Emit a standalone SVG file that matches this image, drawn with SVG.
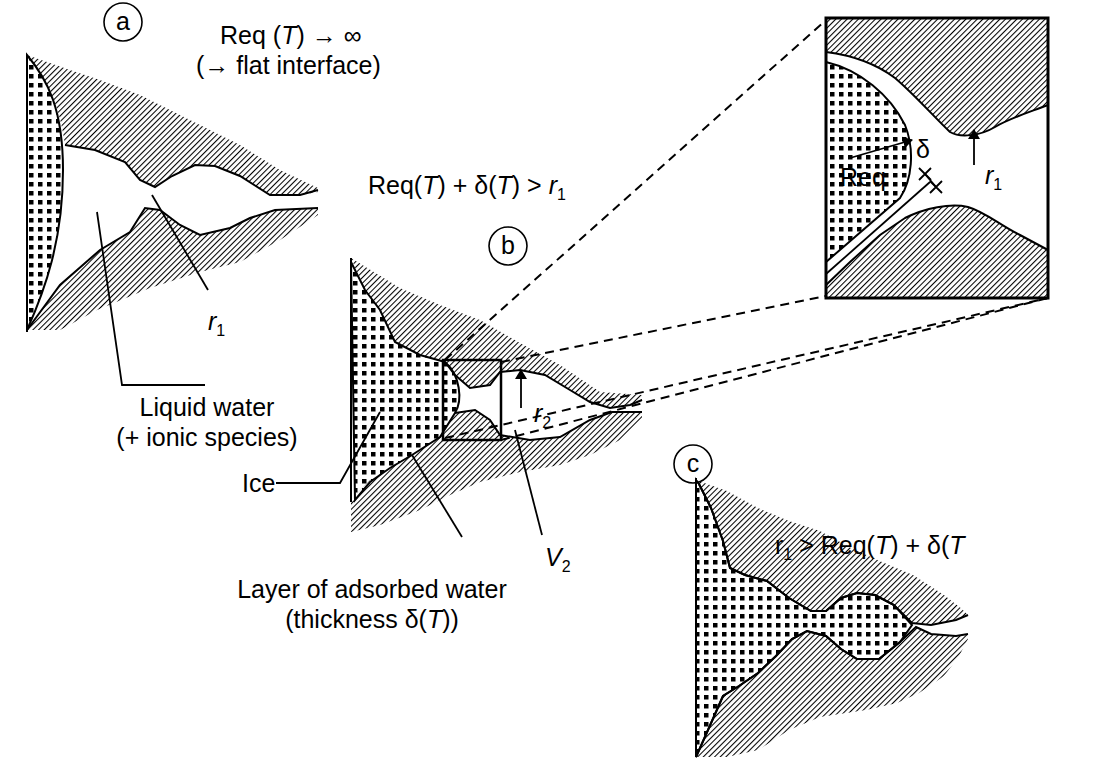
<svg xmlns="http://www.w3.org/2000/svg" width="1098" height="764" viewBox="0 0 1098 764">
<defs>
<pattern id="hatch" width="4" height="4" patternUnits="userSpaceOnUse" patternTransform="rotate(45)"><line x1="0" y1="0" x2="0" y2="4" stroke="#000" stroke-width="2.1"/></pattern>
<pattern id="dots" width="9" height="9" patternUnits="userSpaceOnUse"><rect x="2" y="2" width="4.5" height="4.5" fill="#000"/></pattern>
<marker id="arr" markerWidth="10" markerHeight="12" refX="9" refY="6" orient="auto" markerUnits="userSpaceOnUse" viewBox="0 0 10 12"><path d="M0,0 L10,6 L0,12 z" fill="#000"/></marker>
</defs>
<style>
.rock{fill:url(#hatch);stroke:none}
.edge{fill:none;stroke:#000;stroke-width:2}
.ice{fill:url(#dots);stroke:#000;stroke-width:2}
.ln{fill:none;stroke:#000;stroke-width:1.8}
.dash{fill:none;stroke:#000;stroke-width:2;stroke-dasharray:9 6}
text{font-family:"Liberation Sans",Arial,sans-serif;font-size:25px;fill:#000}
.it{font-style:italic}
.sub{font-size:16px}
.circ{fill:none;stroke:#000;stroke-width:1.6}
</style>

<g id="panel-a">
<path class="rock" d="M27,55 L70,70 L100,80 L140,95 L170,110 L200,125 L240,145 L280,170 L318,188 L318,192 L300,195 L270,195 L240,176 L215,166 L195,165 L172,176 L155,187 L140,180 L125,162 L95,150 L65,145 C60,105 45,75 27,55 Z"/>
<path class="edge" d="M65,145 L95,150 L125,162 L140,180 L155,187 L172,176 L195,165 L215,166 L240,176 L270,195 L300,195 L318,190"/>
<path class="rock" d="M27,330 L60,285 L100,250 L130,232 L145,208 L160,210 L180,225 L200,235 L230,228 L250,218 L275,210 L318,208 L318,215 L280,240 L240,262 L200,272 L150,288 L97,310 L60,330 Z"/>
<path class="edge" d="M27,330 L60,285 L100,250 L130,232 L145,208 L160,210 L180,225 L200,235 L230,228 L250,218 L275,210 L318,208"/>
<path class="ice" d="M27,55 C48,80 63,110 63,170 C63,240 45,290 27,330 Z"/>
<line class="edge" x1="27" y1="55" x2="27" y2="332"/>
<circle class="circ" cx="123" cy="22" r="19"/>
<text x="123" y="30" text-anchor="middle">a</text>
</g>

<g id="text-a">
<text x="220" y="44">Req (<tspan class="it">T</tspan>) → ∞</text>
<text x="196" y="74">(→ flat interface)</text>
<text x="208" y="330" class="it">r<tspan class="sub" dy="6" font-style="normal">1</tspan></text>
<text x="207" y="416" text-anchor="middle">Liquid water</text>
<text x="207" y="446" text-anchor="middle">(+ ionic species)</text>
<text x="368" y="194">Req(<tspan class="it">T</tspan>) + δ(<tspan class="it">T</tspan>) &gt; <tspan class="it">r</tspan><tspan class="sub" dy="6">1</tspan></text>
</g>

<g id="panel-b">
<path class="rock" d="M351,258 L400,288 L440,305 L480,320 L520,343 L560,365 L600,392 L642,395 L642,400 L630,405 L610,408 L590,402 L570,390 L545,375 L520,370 L500,372 L490,385 L470,388 L455,375 L445,362 L420,355 L395,342 L380,310 L365,290 Z"/>
<path class="edge" d="M445,362 L455,375 L470,388 L490,385 L500,372 L520,370 L545,375 L570,390 L590,402 L610,408 L630,405 L642,400"/>
<path class="rock" d="M351,500 L370,480 L390,468 L412,455 L440,437 L455,413 L475,410 L490,420 L500,435 L530,440 L560,437 L590,420 L612,412 L642,412 L642,418 L620,440 L590,455 L560,465 L520,472 L480,482 L450,495 L420,510 L380,525 L351,532 Z"/>
<path class="edge" d="M455,413 L475,410 L490,420 L500,435 L530,440 L560,437 L590,420 L612,412 L642,412"/>
<path class="ice" d="M351,262 L365,290 L380,310 L395,342 L420,355 L445,362 C460,375 463,400 455,413 L440,437 L412,455 L390,468 L370,482 L355,500 Z"/>
<line class="edge" x1="351" y1="258" x2="351" y2="502"/>
<rect x="443" y="360" width="58" height="80" fill="none" stroke="#000" stroke-width="2.5"/>
<line class="ln" x1="521" y1="408" x2="521" y2="370" marker-end="url(#arr)"/>
<circle class="circ" cx="508" cy="246" r="19"/>
<text x="508" y="254" text-anchor="middle">b</text>
</g>

<g id="inset">
<rect x="826" y="18" width="222" height="280" fill="#fff"/>
<path class="rock" d="M826,18 L1048,18 L1048,105 C1030,112 1010,118 995,127 C980,136 960,138 950,132 C935,118 915,95 895,78 C875,63 850,55 826,52 Z"/>
<path class="edge" d="M826,52 C850,55 875,63 895,78 C915,95 935,118 950,132 C960,138 980,136 995,127 C1010,118 1030,112 1048,105"/>
<path class="rock" d="M826,298 L826,285 L850,262 L880,235 L905,218 C925,208 950,203 968,207 C985,212 1000,225 1020,235 L1048,250 L1048,298 Z"/>
<path class="edge" d="M826,285 L850,262 L880,235 L905,218 C925,208 950,203 968,207 C985,212 1000,225 1020,235 L1048,250"/>
<path class="ice" d="M826,62 C860,70 890,95 905,125 C915,150 912,180 900,198 L826,262 Z"/>
<line class="ln" x1="826" y1="274" x2="930" y2="182"/>
<line class="ln" x1="850" y1="158" x2="912" y2="140" marker-end="url(#arr)"/>
<line class="ln" x1="974" y1="165" x2="974" y2="130" marker-end="url(#arr)"/>
<path class="ln" d="M919,168 L931,180 M919,180 L931,168 M930,181 L942,193 M930,193 L942,181"/>
<line class="ln" x1="925" y1="174" x2="936" y2="187"/>
<rect x="826" y="18" width="222" height="280" fill="none" stroke="#000" stroke-width="3"/>
<text x="840" y="186">Req</text>
<text x="916" y="158">δ</text>
<text x="985" y="184" class="it">r<tspan class="sub" dy="6" font-style="normal">1</tspan></text>
</g>

<g id="panel-c">
<path class="rock" d="M696,480 L727,491 L758,508 L789,521 L820,531 L851,548 L882,562 L913,575 L944,595 L962,609 L968,615 L956,620 L931,625 L912,623 L894,605 L875,595 L857,593 L841,598 L826,611 L811,611 L789,598 L767,581 L745,575 L730,568 L723,541 L711,508 L699,484 Z"/>
<path class="edge" d="M699,484 L711,508 L723,541 L730,568 L745,575 L767,581 L789,598 L811,611 L826,611 L841,598 L857,593 L875,595 L894,605 L912,623 L931,625 L956,620 L968,615"/>
<path class="rock" d="M696,757 L708,730 L723,696 L739,686 L758,673 L776,656 L792,639 L807,631 L826,636 L841,649 L857,659 L879,659 L900,642 L916,627 L931,634 L956,636 L968,634 L968,639 L959,656 L944,676 L919,693 L897,703 L866,710 L820,717 L789,730 L758,750 L727,757 Z"/>
<path class="edge" d="M696,757 L708,730 L723,696 L739,686 L758,673 L776,656 L792,639 L807,631 L826,636 L841,649 L857,659 L879,659 L900,642 L916,627 L931,634 L956,636 L968,634"/>
<path class="ice" d="M696,480 L699,484 L711,508 L723,541 L730,568 L745,575 L767,581 L789,598 L811,611 L826,611 L841,598 L857,593 L875,595 L894,605 L912,625 L900,642 L879,659 L857,659 L841,649 L826,636 L807,631 L792,639 L776,656 L758,673 L739,686 L723,696 L708,730 L696,757 Z" stroke="none"/>
<line class="edge" x1="696" y1="478" x2="696" y2="757"/>
<circle class="circ" cx="693" cy="464" r="19"/>
<text x="693" y="472" text-anchor="middle">c</text>
<text x="775" y="554">r<tspan class="sub" dy="6">1</tspan><tspan dy="-6"> &gt; Req(</tspan><tspan class="it">T</tspan>) + δ(<tspan class="it">T</tspan></text>
</g>

<g id="connectors">
<line class="dash" x1="445" y1="360" x2="826" y2="20"/>
<line class="dash" x1="501" y1="362" x2="826" y2="296"/>
<line class="dash" x1="445" y1="438" x2="1048" y2="298"/>
<line class="dash" x1="501" y1="440" x2="1048" y2="298"/>
<line class="ln" x1="152" y1="195" x2="208" y2="290"/>
<polyline class="ln" points="97,212 122,385 205,385"/>
<polyline class="ln" points="380,412 340,483 276,483"/>
<polyline class="ln" points="412,455 462,537"/>
<line class="ln" x1="515" y1="430" x2="542" y2="535"/>
</g>

<g id="labels-b">
<text x="534" y="422" class="it">r<tspan class="sub" dy="6" font-style="normal">2</tspan></text>
<text x="545" y="566" class="it">V<tspan class="sub" dy="6" font-style="normal">2</tspan></text>
<text x="242" y="492">Ice</text>
<text x="372" y="598" text-anchor="middle">Layer of adsorbed water</text>
<text x="372" y="628" text-anchor="middle">(thickness δ(<tspan class="it">T</tspan>))</text>
</g>
</svg>
